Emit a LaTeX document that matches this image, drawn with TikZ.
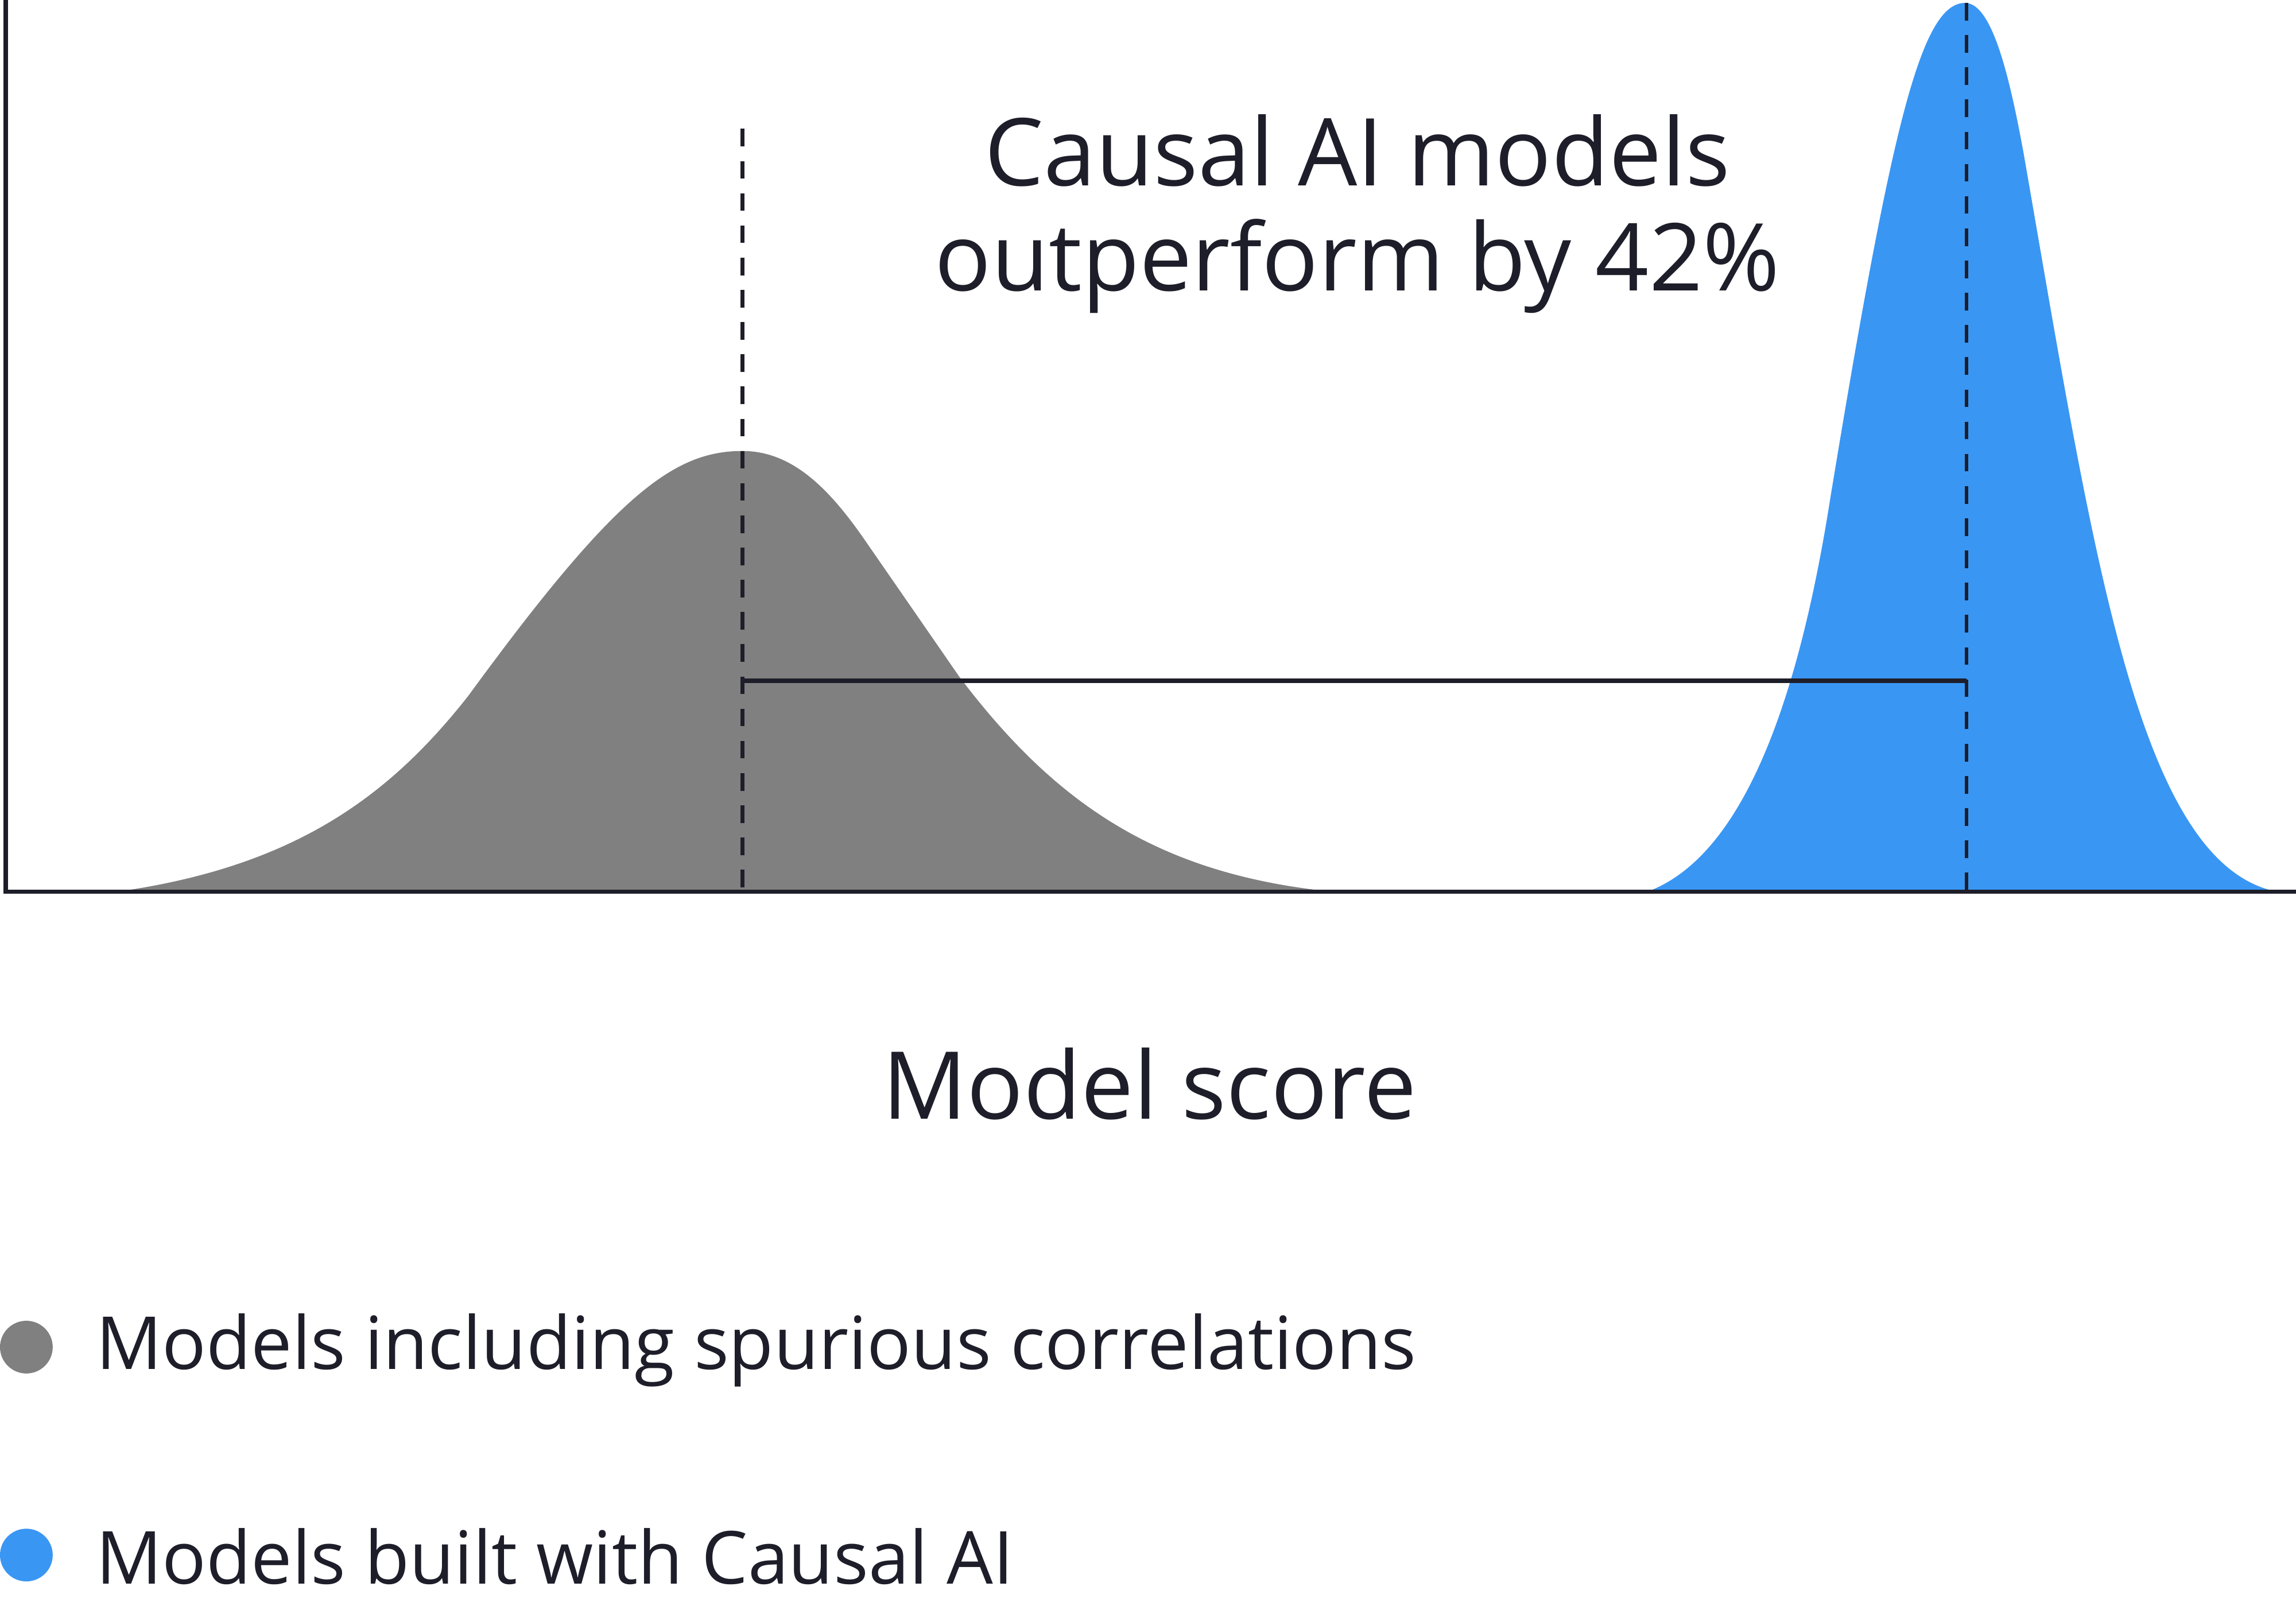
\documentclass[tikz,border=0pt]{standalone}
\usepackage{fontspec}
\setmainfont{Open Sans}
\definecolor{ink}{HTML}{1E1E2A}
\definecolor{grayc}{HTML}{808080}
\definecolor{bluec}{HTML}{3A96F3}
\begin{document}
\begin{tikzpicture}[x=1pt,y=-1pt,
  axis/.style={ink,line width=3pt},
  dashline/.style={ink,line width=2.6pt,dash pattern=on 12pt off 10pt},
  lbl/.style={ink,font=\fontsize{64}{78}\selectfont,align=center},
  leg/.style={ink,font=\fontsize{50}{60}\selectfont,anchor=west}]
\useasboundingbox (0,0) rectangle (1568,1094);
\fill[grayc] (80,609) .. controls (200,592) and (265,545) .. (320,475)
  .. controls (420,338) and (460,308) .. (507,308)
  .. controls (540,308) and (565,332) .. (590,368)
  -- (655,462) .. controls (720,548) and (790,597) .. (910,609) -- cycle;
\fill[bluec] (1125,609) .. controls (1190,585) and (1228,480) .. (1250,340)
  .. controls (1292,85) and (1312,2) .. (1342,2)
  .. controls (1360,2) and (1372,50) .. (1382,105)
  .. controls (1430,380) and (1460,590) .. (1555,609) -- cycle;
\coordinate (g1) at (507,88); \coordinate (g0) at (507,609);
\coordinate (b1) at (1343,2); \coordinate (b0) at (1343,609);
\coordinate (h0) at (507,465); \coordinate (h1) at (1343,465);
\coordinate (o) at (4,609); \coordinate (yt) at (4,0); \coordinate (xr) at (1568,609);
\draw[dashline] (g1) -- (g0);
\draw[dashline] (b1) -- (b0);
\draw[ink,line width=3pt] (h0) -- (h1);
\draw[axis] (yt) -- (o) -- (xr);
\node[lbl] (title) at (927,146) {Causal AI models\\[-6pt]outperform by 42\%};
\node[lbl] (xl) at (785,740) {Model score};
\fill[grayc] (18,920) circle (18) coordinate (c1);
\fill[bluec] (18,1062) circle (18) coordinate (c2);
\node[leg] (l1) at (62,922) {Models including spurious correlations};
\node[leg] (l2) at (62,1063) {Models built with Causal AI};
\end{tikzpicture}
\end{document}
